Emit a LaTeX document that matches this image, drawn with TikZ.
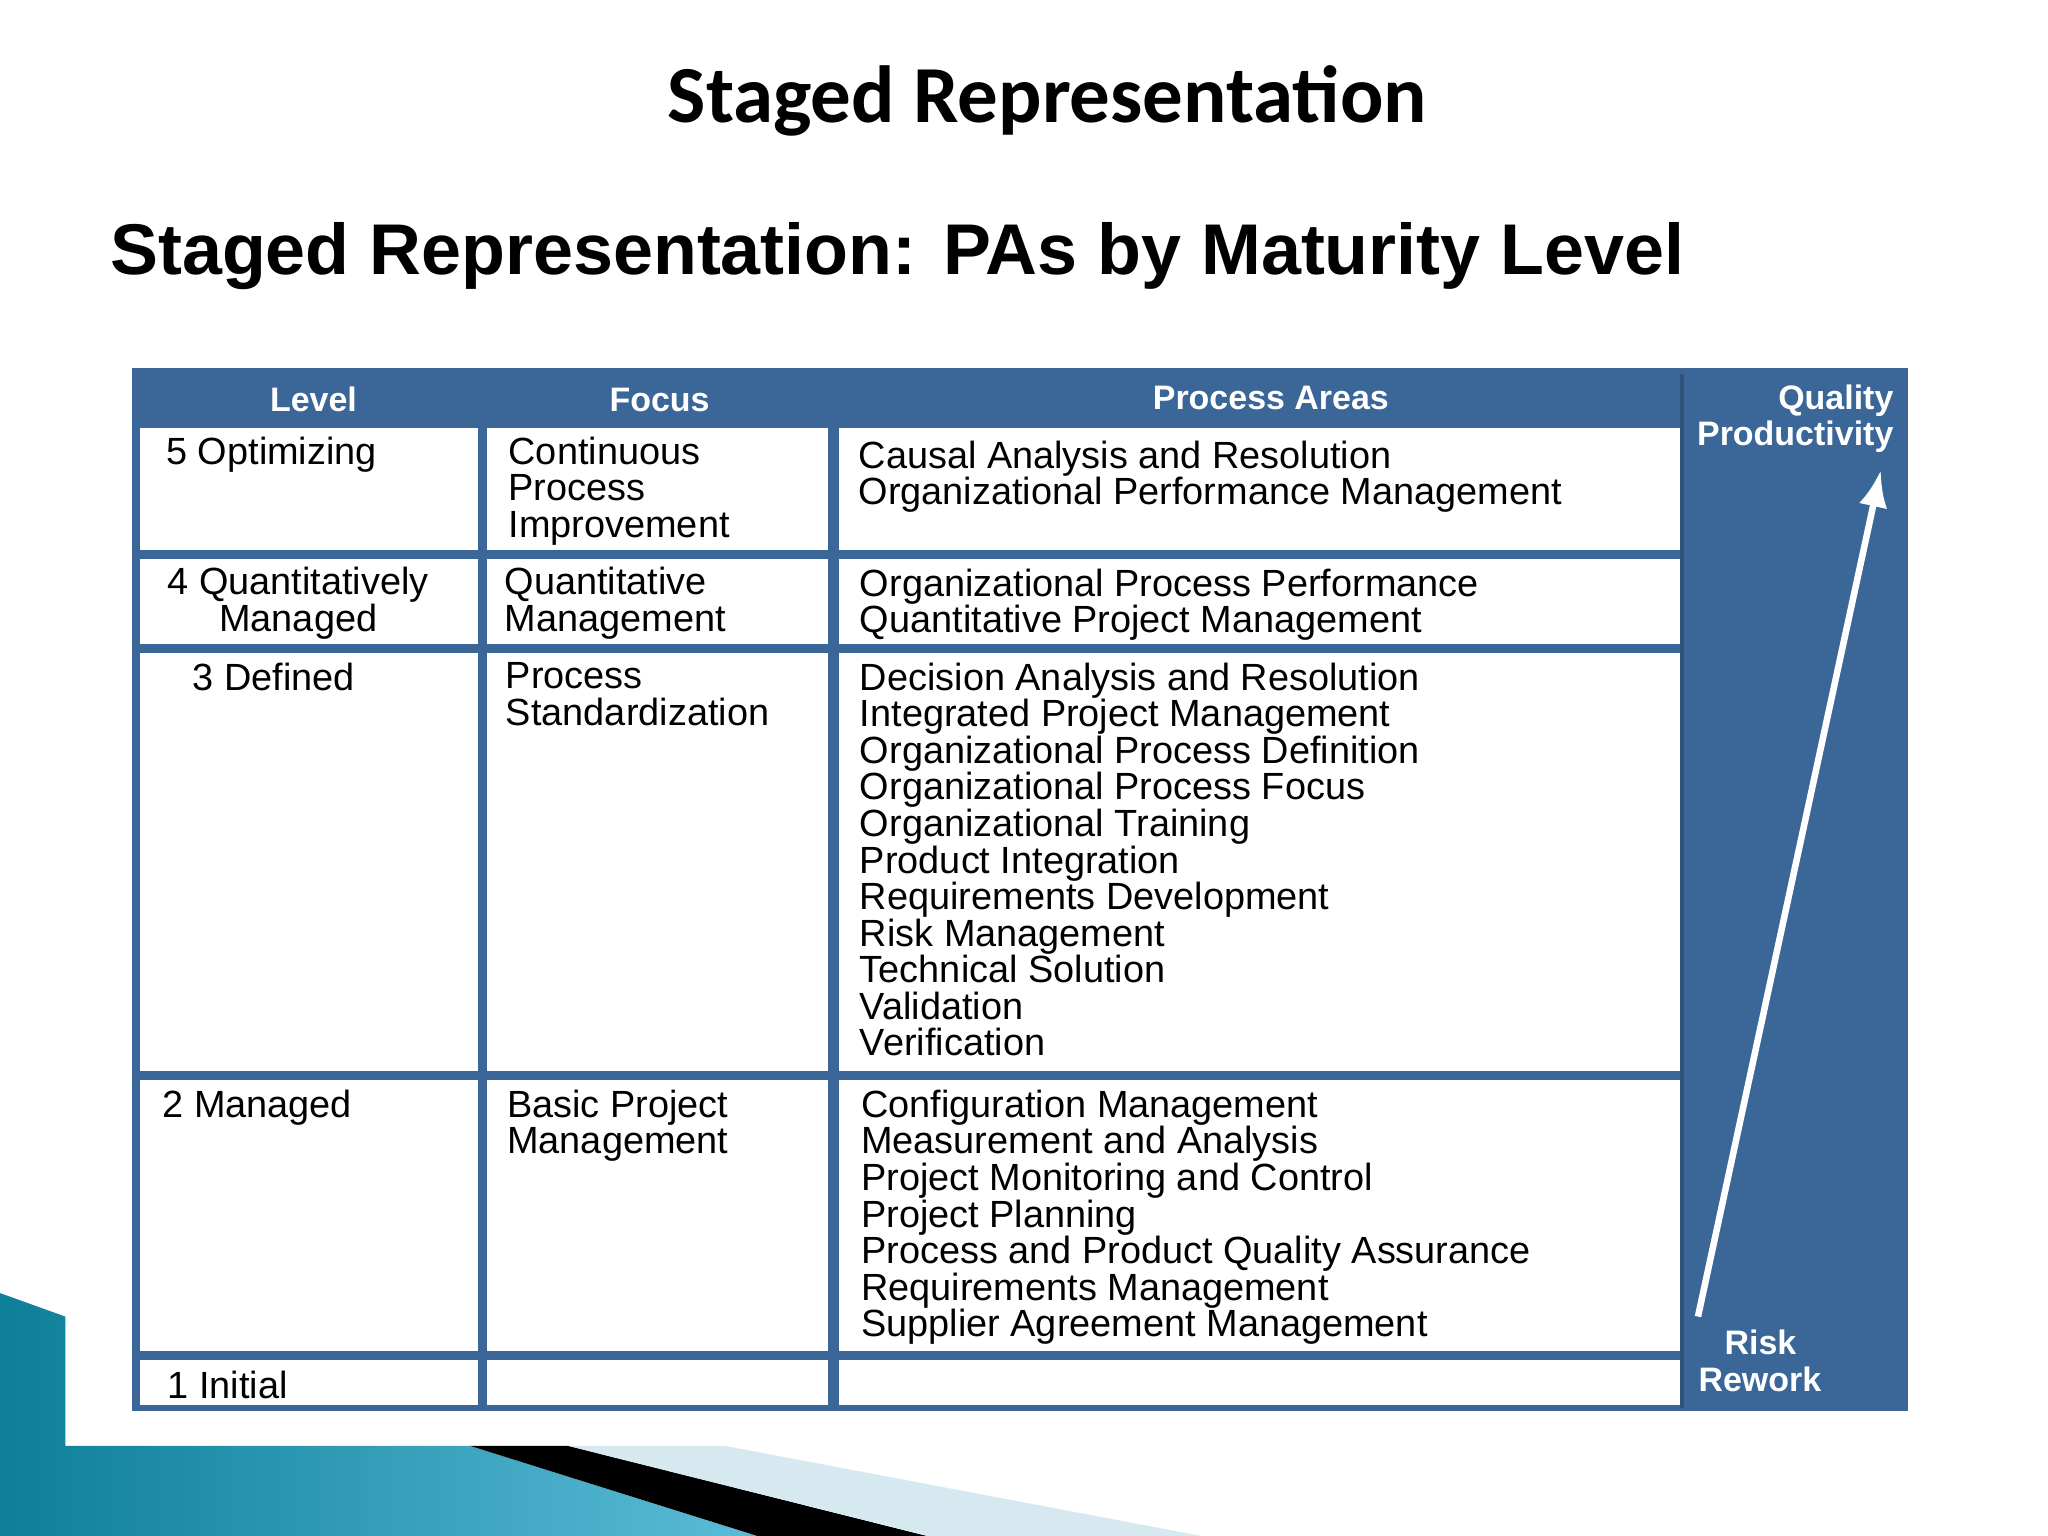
\documentclass[tikz,border=0pt]{standalone}
\usepackage{fontspec}
\usetikzlibrary{arrows.meta}
\setmainfont{Liberation Sans}
\newfontfamily\titlefont{Carlito}
\definecolor{tblue}{HTML}{3A6698}
\definecolor{tealA}{HTML}{0E7F99}
\definecolor{tealB}{HTML}{5BBCD8}
\definecolor{lightb}{HTML}{D6E8F0}
\begin{document}
\begin{tikzpicture}[x=0.5pt,y=-0.5pt,
  cell/.style={fill=white,draw=none},
  txt/.style={anchor=north west,inner sep=0pt,align=left,font=\fontsize{14.5}{14}\selectfont},
  hdr/.style={text=white,font=\bfseries\fontsize{13}{14}\selectfont,inner sep=0pt}]
\useasboundingbox (0,0) rectangle (1568,1176);
\fill[white] (0,0) rectangle (1568,1176);
% decoration
\shade[left color=tealA,right color=tealB] (0,990) -- (50,1008) -- (50,1107) -- (360,1107) -- (580,1176) -- (0,1176) -- cycle;
\fill[black] (360,1107) -- (435,1107) -- (710,1176) -- (580,1176) -- cycle;
\fill[lightb] (435,1107) -- (555,1107) -- (920,1176) -- (710,1176) -- cycle;
% titles
\node[font=\titlefont\bfseries\fontsize{31}{36}\selectfont] (t1) at (802,77) {Staged Representation};
\node[font=\bfseries\fontsize{27.5}{32}\selectfont,anchor=west,inner sep=0pt] (t2) at (84,196) {Staged Representation: PAs by Maturity Level};
% table
\fill[tblue] (101,282) rectangle (1461,1080);
\foreach \a/\b in {328/421,428/493,500/820,827/1034,1041/1076}{
  \fill[white] (107,\a) rectangle (366,\b);
  \fill[white] (373,\a) rectangle (634,\b);
  \fill[white] (642,\a) rectangle (1286,\b);
}
\draw[tblue!80!black,line width=1.5pt] (1288,286) -- (1288,1078);
\node[hdr] (h1) at (240,306) {Level};
\node[hdr] (h2) at (505,306) {Focus};
\node[hdr] (h3) at (973,305) {Process Areas};
\node[hdr,anchor=north east,align=right] (q) at (1450,294) {Quality\\Productivity};
\node[hdr,anchor=north west,align=left] (r) at (1300,1018) {\hspace*{10pt}Risk\\Rework};
\coordinate (a0) at (1300,1008);
\coordinate (a1) at (1440,360);
\draw[white,line width=2.5pt,-{Latex[length=14pt,width=11pt]}] (a0) -- (a1);
% row texts
\node[txt] (l5) at (127,334) {5 Optimizing};
\node[txt] (f5) at (389,334) {Continuous\\Process\\Improvement};
\node[txt] (p5) at (657,337) {Causal Analysis and Resolution\\Organizational Performance Management};
\node[txt,align=center] (l4) at (128,434) {4 Quantitatively\\Managed};
\node[txt] (f4) at (386,434) {Quantitative\\Management};
\node[txt] (p4) at (658,435) {Organizational Process Performance\\Quantitative Project Management};
\node[txt] (l3) at (147,507) {3 Defined};
\node[txt] (f3) at (387,507) {Process\\Standardization};
\node[txt] (p3) at (658,507) {Decision Analysis and Resolution\\Integrated Project Management\\Organizational Process Definition\\Organizational Process Focus\\Organizational Training\\Product Integration\\Requirements Development\\Risk Management\\Technical Solution\\Validation\\Verification};
\node[txt] (l2) at (124,834) {2 Managed};
\node[txt] (f2) at (388,834) {Basic Project\\Management};
\node[txt] (p2) at (659,834) {Configuration Management\\Measurement and Analysis\\Project Monitoring and Control\\Project Planning\\Process and Product Quality Assurance\\Requirements Management\\Supplier Agreement Management};
\node[txt] (l1) at (128,1049) {1 Initial};
\end{tikzpicture}
\end{document}
